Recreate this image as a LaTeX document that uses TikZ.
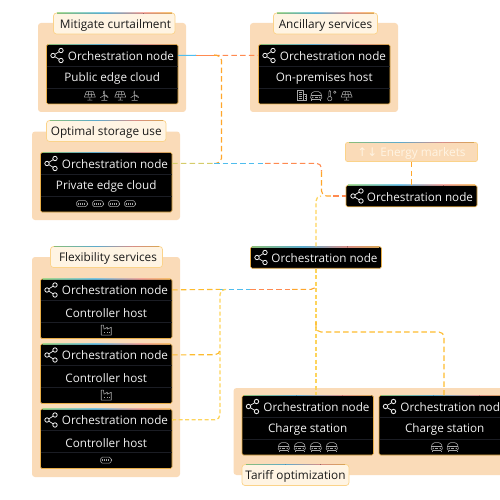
\documentclass[tikz,border=0pt]{standalone}
\usepackage{fontspec}
\usetikzlibrary{calc}
\setmainfont{Open Sans}
\newfontfamily\symfont{DejaVu Sans}
\definecolor{peach}{HTML}{FADBB8}
\definecolor{labelfill}{HTML}{FFF4E3}
\definecolor{labeledge}{HTML}{FBD38A}
\definecolor{cardedge}{HTML}{E8AE48}
\definecolor{rowline}{HTML}{1B1D24}
\definecolor{ink}{HTML}{F0F0F0}
\definecolor{iconc}{HTML}{A8A8A8}
\definecolor{wireA}{HTML}{FDBB2E}
\definecolor{wireB}{HTML}{FFA62B}
\definecolor{wireC}{HTML}{FF8A50}
\definecolor{wireD}{HTML}{4FBDEE}
\definecolor{wireE}{HTML}{FDD45C}
\definecolor{wireF}{HTML}{D5CC6A}
\definecolor{railA}{HTML}{9CD98A}
\definecolor{railB}{HTML}{67C4EE}
\definecolor{railC}{HTML}{F7A29A}
\definecolor{railD}{HTML}{F8BE62}
\tikzset{
  x=1pt,y=-1pt,
  groupbg/.style={fill=peach,rounded corners=3pt,draw=none},
  labelbox/.style={draw=labeledge,line width=.7pt,fill=labelfill,rounded corners=3pt,inner sep=0pt,anchor=center},
  labeltext/.style={text=black!90,font=\fontsize{11.8}{14}\selectfont,inner sep=0pt,anchor=center},
  cardbg/.style={draw=cardedge,line width=.6pt,fill=black,rounded corners=1.5pt},
  rowtext/.style={text=ink,font=\fontsize{11.7}{14}\selectfont,inner sep=0pt,anchor=center},
  wire/.style={line width=1.1pt,dash pattern=on 5.5pt off 3.2pt,rounded corners=5pt},
  thick wire/.style={line width=1.3pt,dash pattern=on 4pt off 2.5pt,rounded corners=5pt},
  icon/.style={draw=iconc,line width=.55pt,line join=round},
  pics/share/.style={code={
    \draw[draw=ink,line width=.7pt] (4,-5)--(-4,0)--(4,5);
    \draw[draw=ink,line width=.8pt,fill=black] (-4,0) circle (2.2) (4,-5) circle (2.2) (4,5) circle (2.2);
  }},
  pics/solar/.style={code={
    \draw[icon] (-3.5,-4)--(3.5,-4)--(5.5,1.5)--(-5.5,1.5)--cycle;
    \draw[icon] (-4.5,-1.3)--(4.5,-1.3) (-1.2,-4)--(-1.8,1.5) (1.2,-4)--(1.8,1.5) (0,1.5)--(0,4.5) (-2.5,4.5)--(2.5,4.5);
  }},
  pics/turbine/.style={code={
    \draw[icon] (0,-.5)--(0,-5) (0,-.5)--(4,2) (0,-.5)--(-4,2) (0,-.5)--(0,4.5) (-3,4.7)--(3,4.7);
    \draw[icon] (-.8,-1.5)--(-.5,-4.5) (.8,-.8)--(3.8,.8);
  }},
  pics/battery/.style={code={
    \draw[icon,rounded corners=1.5pt] (-5.5,-3)rectangle(4.8,3);
    \draw[icon] (5.4,-1)--(5.4,1);
    \draw[icon] (-3.5,-1)--(-3.5,1) (-1.5,-1)--(-1.5,1) (.5,-1)--(.5,1) (2.5,-1)--(2.5,1);
  }},
  pics/car/.style={code={
    \draw[icon,rounded corners=1.5pt] (-5.5,3.8)--(-5.5,-.3)--(-3.8,-4)--(3.8,-4)--(5.5,-.3)--(5.5,3.8)--cycle;
    \draw[icon] (-5.5,-.3)--(5.5,-.3) (-4.5,3.8)--(-4.5,5) (4.5,3.8)--(4.5,5) (-1.5,1.8)--(1.5,1.8);
    \fill[iconc] (-3.5,1.7) circle (.8) (3.5,1.7) circle (.8);
  }},
  pics/building/.style={code={
    \draw[icon] (-4.5,5)--(-4.5,-5)--(1.5,-5)--(1.5,5)--cycle (1.5,-1.5)--(4.8,-1.5)--(4.8,5)--(-4.5,5);
    \draw[icon] (-3,-3)--(0,-3) (-3,-1)--(0,-1) (-3,1)--(0,1) (-3,3)--(0,3) (3,.5)--(3.6,.5) (3,3)--(3.6,3);
  }},
  pics/thermo/.style={code={
    \draw[icon] (-2.5,3) circle (2.2);
    \draw[icon] (-3.4,1.2)--(-3.4,-4) (-1.6,1.2)--(-1.6,-4) (-3.4,-4) -- (-2.5,-5.2) -- (-1.6,-4);
    \draw[icon] (2.5,-3.5) circle (1.3);
  }},
  pics/factory/.style={code={
    \draw[icon] (-5,5)--(-5,-5)--(-2.8,-5)--(-2.2,-1)--(1,-3)--(1,-1)--(5,-3)--(5,5)--cycle;
    \draw[icon] (-2,2)--(-1,2) (.5,2)--(1.5,2) (3,2)--(4,2);
  }},
}
% \railbar{x1}{x2}{y}
\newcommand{\railbar}[3]{%
  \begin{scope}[opacity=.85]
  \fill[left color=railA,right color=railB] (#1,#3-.35) rectangle ({#1+(#2-#1)*.4},#3+.35);
  \fill[left color=railB,right color=railC] ({#1+(#2-#1)*.4},#3-.35) rectangle ({#1+(#2-#1)*.75},#3+.35);
  \fill[left color=railC,right color=railD] ({#1+(#2-#1)*.75},#3-.35) rectangle (#2,#3+.35);
  \end{scope}}
% \threerow{name}{x}{y}{second line}{third-row pics}
\newcommand{\threerow}[5]{%
  \draw[cardbg] (#2,#3) rectangle ({#2+131.5},{#3+59.5});
  \railbar{#2+2}{#2+129.5}{#3}
  \draw[rowline,line width=.6pt] (#2+.5,{#3+21.7})--({#2+131},{#3+21.7}) (#2+.5,{#3+43.6})--({#2+131},{#3+43.6});
  \path ({#2+10.5},{#3+11}) pic{share};
  \node[rowtext,minimum height=21.7pt,minimum width=131.5pt,text width=0pt,text depth=0pt,text height=0pt] (#1) at ({#2+65.75},{#3+10.85}) {};
  \node[rowtext] (#1t) at ({#2+74.5},{#3+11.6}) {Orchestration node};
  \node[rowtext] (#1h) at ({#2+65.75},{#3+33.9}) {#4};
  \begin{scope}[shift={({#2+65.75},{#3+51.2})},scale=.8]#5\end{scope}}
\begin{document}
\begin{tikzpicture}
\useasboundingbox (0,0) rectangle (500,500);
% group backgrounds
\fill[groupbg] (38,23) rectangle (186,112);
\fill[groupbg] (250,23) rectangle (398,112);
\fill[groupbg] (32,131.5) rectangle (180,220);
\fill[groupbg] (32,257) rectangle (180,477);
\fill[groupbg] (233.5,388) rectangle (510,475);
% labels
\node[labelbox,minimum width=121.5pt,minimum height=21pt] (lab1) at (114.25,23.5) {};
\node[labeltext] (lab1t) at (115.5,25.2) {Mitigate curtailment};
\railbar{57}{172}{13}
\node[labelbox,minimum width=104pt,minimum height=21pt] (lab2) at (325.5,23.5) {};
\node[labeltext] (lab2t) at (325.5,25.2) {Ancillary services};
\railbar{277}{374}{13}
\node[labelbox,minimum width=119.5pt,minimum height=21pt] (lab3) at (106.25,131) {};
\node[labeltext] (lab3t) at (106.25,132.7) {Optimal storage use};
\railbar{50}{163}{120.5}
\node[labelbox,minimum width=112pt,minimum height=21pt] (lab4) at (106.5,257) {};
\node[labeltext] (lab4t) at (108,258.7) {Flexibility services};
\railbar{54}{159}{246.5}
% cards
\threerow{a}{46.5}{44.5}{Public edge cloud}{\path (-28,0) pic{solar} (-10,0) pic{turbine} (10,0) pic{solar} (28,0) pic{turbine};}
\threerow{b}{258.5}{44.5}{On-premises host}{\path (-28,0) pic{building} (-10,0) pic{car} (10,0) pic{thermo} (28,0) pic{solar};}
\threerow{c}{40.5}{152.5}{Private edge cloud}{\path (-30,0) pic{battery} (-10,0) pic{battery} (10,0) pic{battery} (30,0) pic{battery};}
\threerow{d}{40.5}{279}{Controller host}{\path (0,0) pic{factory};}
\threerow{e}{40.5}{344}{Controller host}{\path (0,0) pic{factory};}
\threerow{f}{40.5}{409}{Controller host}{\path (0,0) pic{battery};}
\threerow{g}{242}{395.5}{Charge station}{\path (-30,0) pic{car} (-10,0) pic{car} (10,0) pic{car} (30,0) pic{car};}
\threerow{h}{379}{395.5}{Charge station}{\path (-10,0) pic{car} (10,0) pic{car};}
\node[labelbox,minimum width=107pt,minimum height=21pt] (lab5) at (295.5,475) {};
\node[labeltext] (lab5t) at (295.5,476.7) {Tariff optimization};
\railbar{246}{345}{464.5}
% energy markets
\node[draw=labeledge,line width=.7pt,fill=peach,rounded corners=2pt,minimum width=132pt,minimum height=19pt,inner sep=0pt] (mk) at (411.5,152) {};
\node[labeltext,text=labelfill] (mkt) at (411.5,153.2) {{\symfont ↑↓} Energy markets};
\railbar{349}{474}{142.5}
% standalone orchestration nodes
\node[draw=cardedge,line width=.6pt,fill=black,rounded corners=1.5pt,minimum width=131pt,minimum height=21.5pt,inner sep=0pt] (n1) at (411.5,196) {};
\railbar{348}{475}{185.3}
\node[rowtext] (n1t) at (420,196.8) {Orchestration node};
\path (357,196) pic{share};
\node[draw=cardedge,line width=.6pt,fill=black,rounded corners=1.5pt,minimum width=131pt,minimum height=21.5pt,inner sep=0pt] (n2) at (316,257.5) {};
\railbar{252}{379}{246.8}
\node[rowtext] (n2t) at (324.5,258.3) {Orchestration node};
\path (261,257.5) pic{share};
% free bend points
\coordinate (t0) at (196,55.3);
\coordinate (t0b) at (214,55.3);
\coordinate (t1) at (221.5,55.3);
\coordinate (t2) at (221.5,163.3);
\coordinate (t3) at (214,163.3);
\coordinate (t4) at (265,163.3);
\coordinate (j1) at (321.5,163.3);
\coordinate (j2) at (321.5,196);
\coordinate (j3) at (316,196);
\coordinate (j4) at (321,196);
\coordinate (j5) at (333,196);
\coordinate (r1) at (220,289.4);
\coordinate (r2) at (220,419.7);
\coordinate (r3) at (220,354.7);
\coordinate (r4) at (226,289.4);
\coordinate (r5) at (250,289.4);
\coordinate (r6) at (292,289.4);
\coordinate (s1) at (316,289.4);
\coordinate (s2) at (316,332);
\coordinate (s3) at (444,332);
\coordinate (s4) at (316,322);
% connectors: top row
\draw[wire,wireD,dash pattern=on 19pt off 0pt] (a.east) -- (t0);
\draw[wire,wireC,dash pattern=on 18pt off 0pt] (t0) -- (t0b);
\draw[wire,wireC] (t0b) -- (b.west);
\draw[wire,wireB] (t0b) -- (t1) -- (t2) -- (t3);
\draw[wire,wireF] (c.east) -- (t3);
\draw[wire,wireD] (t3) -- (t4);
\draw[wire,wireC] (t4) -- (j1) -- ($(j1)+(0,8)$);
\draw[wire,wireB] ($(j1)+(0,8)$) -- (j2) -- (j5);
\draw[wire,wireC] (j5) -- (n1.west);
\draw[thick wire,wireE] (n2.north) -- (j3) -- (j4);
\draw[wire,wireB] (mk.south) -- (n1.north);
% connectors: controllers
\draw[wire,wireA] (d.east) -- (r1);
\draw[wire,wireD] (r1) -- (r5);
\draw[wire,wireC] (r5) -- (r6);
\draw[wire,wireB] (r6) -- (s1) -- ($(s1)+(0,-6)$);
\draw[thick wire,wireE] (r4) -- (r1) -- (r2) -- (f.east);
\draw[wire,wireA] (e.east) -- (r3) -- ++(0,-5);
% connectors: charge stations
\draw[thick wire,wireE] (n2.south) -- (n2.south |- g.north);
\draw[wire,wireA] (s4) -- (s2) -- (s3) -- (s3 |- h.north);
\end{tikzpicture}
\end{document}
